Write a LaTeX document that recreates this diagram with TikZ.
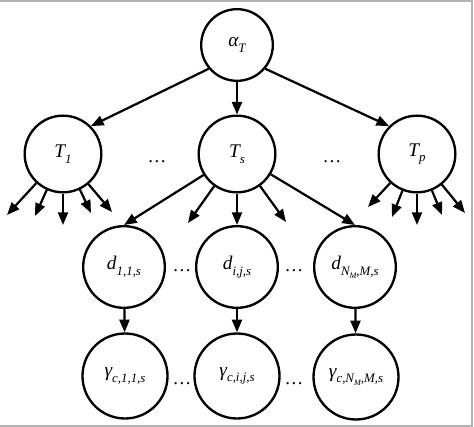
\documentclass[tikz,border=0pt]{standalone}
\usepackage{fontspec}
\setmainfont{Liberation Serif}
\usepackage{tikz}
\usetikzlibrary{arrows.meta}

\newcommand{\lowsub}[1]{\raisebox{-5pt}{\fontsize{11}{11}\selectfont\itshape #1}}
\newcommand{\lowsubsub}[1]{\raisebox{-2.5pt}{\fontsize{7}{7}\selectfont\itshape #1}}

\begin{document}
\begin{tikzpicture}[x=0.03cm,y=-0.03cm,
        var/.style={draw,circle,line width=2pt,inner sep=0pt,font=\fontsize{16.5}{20}\selectfont\itshape},
        edge/.style={line width=1.9pt,-{Triangle[length=0.38cm,width=0.3cm]}},
        dots/.style={anchor=base,inner sep=0pt,font=\fontsize{16}{19}\selectfont}]
        \useasboundingbox (0,0) rectangle (474,427);
        \draw[gray!60,line width=0.06cm] (0,1.5) -- (472,1.5) -- (472,425.5) -- (0,425.5); % frame of the figure

        % hyper-parameter and the p rows
        \node[var,minimum size=2.15cm] (alpha) at (237,45) {α\lowsub{T}};
        \node[var,minimum size=2.3cm] (T1) at (63,154) {T\lowsub{1}};
        \node[var,minimum size=2.3cm] (Ts) at (237,154) {T\lowsub{s}};
        \node[var,minimum size=2.3cm] (Tp) at (417,154) {T\lowsub{p}};
        \node[dots] (dtA) at (157,163) {…};
        \node[dots] (dtB) at (332,163) {…};

        % observations of row s
        \node[var,minimum size=2.45cm] (d11) at (124,267) {d\lowsub{1,1,s}};
        \node[var,minimum size=2.45cm] (dij) at (237,267) {d\lowsub{i,j,s}};
        \node[var,minimum size=2.45cm] (dN) at (355,267) {d\lowsub{N\lowsubsub{M},M,s}};
        \node[dots] (dtC) at (182,272) {…};
        \node[dots] (dtD) at (294,272) {…};

        \node[var,minimum size=2.55cm] (g11) at (125,376) {γ\lowsub{c,1,1,s}};
        \node[var,minimum size=2.55cm] (gij) at (237,376) {γ\lowsub{c,i,j,s}};
        \node[var,minimum size=2.55cm] (gN) at (356,377) {γ\lowsub{c,N\lowsubsub{M},M,s}};
        \node[dots] (dtE) at (182,384) {…};
        \node[dots] (dtF) at (294,384) {…};

        \draw[edge] (alpha.220) -- (T1.45);
        \draw[edge] (alpha) -- (Ts);
        \draw[edge] (alpha.-40) -- (Tp.135);

        \draw[edge] (Ts) -- (d11.north);
        \draw[edge] (Ts) -- (dij);
        \draw[edge] (Ts) -- (dN.north);
        \draw[edge] (d11) -- (g11);
        \draw[edge] (dij) -- (gij);
        \draw[edge] (dN) -- (gN);

        % arrows leaving the picture
        \foreach \x/\y [count=\i] in {7/215,35/216,63/225,91/213,112/212}{
            \coordinate (lo\i) at (\x,\y);
            \draw[edge] (T1) -- (lo\i);
        }
        \foreach \x/\y [count=\i] in {368/207,392/217,417/225,442/215,465/213}{
            \coordinate (hi\i) at (\x,\y);
            \draw[edge] (Tp) -- (hi\i);
        }
        \coordinate (mid1) at (188,223);
        \coordinate (mid2) at (286,222);
        \draw[edge] (Ts) -- (mid1);
        \draw[edge] (Ts) -- (mid2);
\end{tikzpicture}
\end{document}
